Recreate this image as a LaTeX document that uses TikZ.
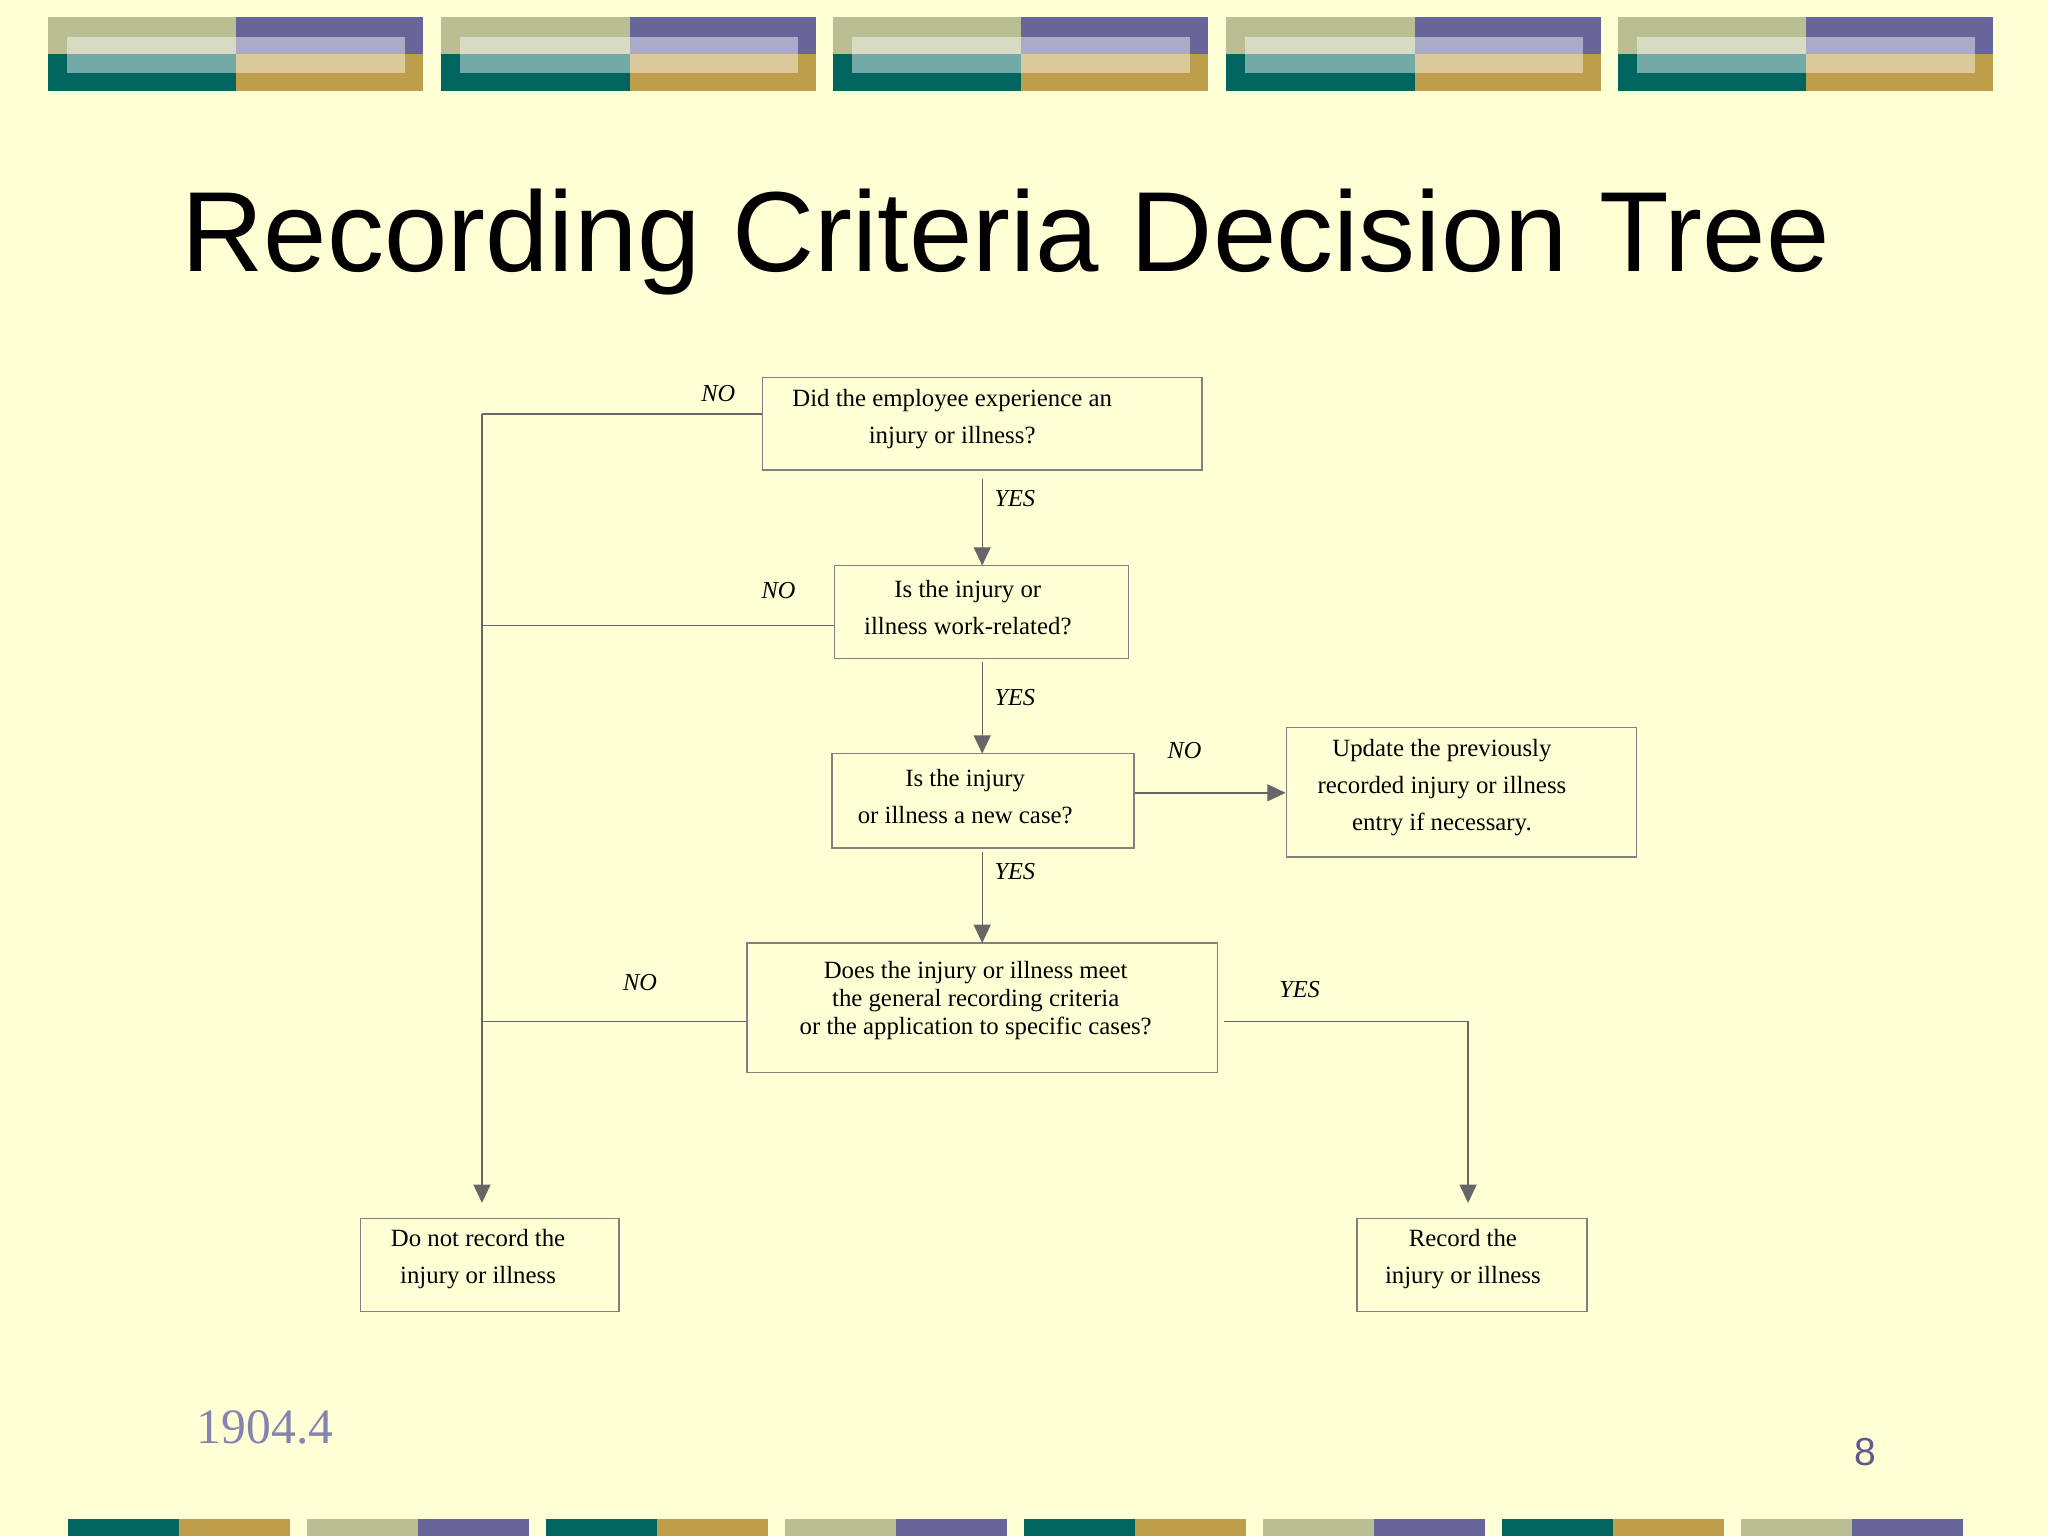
\documentclass[tikz,border=0pt]{standalone}
\usepackage{fontspec}
\setmainfont{Liberation Serif}
\newfontfamily\titlefont{Liberation Sans}
\usetikzlibrary{arrows.meta}
\definecolor{bg}{HTML}{FFFFD6}
\definecolor{olv}{HTML}{B9BF93}
\definecolor{pur}{HTML}{67659A}
\definecolor{tea}{HTML}{00645F}
\definecolor{gld}{HTML}{BF9E4B}
\tikzset{
 box/.style={draw=black!50, line width=0.35pt, inner sep=0pt},
 txt/.style={inner sep=0pt, align=center, font=\fontsize{5.4}{8}\selectfont},
 lab/.style={font=\fontsize{5.3}{6}\selectfont\itshape},
 con/.style={draw=black!60, line width=0.3pt},
 arr/.style={con, -{Triangle[width=0.13cm,length=0.14cm]}},
}
\begin{document}
\begin{tikzpicture}[x=0.01cm,y=-0.01cm]
\fill[bg] (0,0) rectangle (1568,1176);
\useasboundingbox (0,0) rectangle (1568,1176);
\foreach \x in {37,338,638,939,1239}{
 \fill[olv] (\x,13) rectangle ++(144,28);
 \fill[pur] (\x+144,13) rectangle ++(143,28);
 \fill[tea] (\x,41) rectangle ++(144,29);
 \fill[gld] (\x+144,41) rectangle ++(143,29);
 \fill[white,opacity=0.45] (\x+14,28) rectangle (\x+273,56);
}
\foreach \i in {0,...,7}{
 \pgfmathsetmacro{\xx}{52+183*\i}
 \ifodd\i
  \fill[olv] (\xx,1163) rectangle ++(85,13);
  \fill[pur] (\xx+85,1163) rectangle ++(85,13);
 \else
  \fill[tea] (\xx,1163) rectangle ++(85,13);
  \fill[gld] (\xx+85,1163) rectangle ++(85,13);
 \fi
}
\node[anchor=base, font=\titlefont\fontsize{24.8}{30}\selectfont] (title) at (770,208) {Recording Criteria Decision Tree};

\node[box, minimum width=3.36cm, minimum height=0.71cm] (A) at (752,324.5) {};
\node[txt] (At) at (729,321) {Did the employee experience an\\injury or illness?};
\node[box, minimum width=2.25cm, minimum height=0.71cm] (B) at (751.5,468.5) {};
\node[txt] (Bt) at (741,465) {Is the injury or\\illness work-related?};
\node[box, minimum width=2.31cm, minimum height=0.72cm] (C) at (752.5,613) {};
\node[txt] (Ct) at (739,610) {Is the injury\\or illness a new case?};
\node[box, minimum width=3.60cm, minimum height=0.99cm] (D) at (752,771.5) {};
\node[txt, font=\fontsize{5.4}{6}\selectfont] (Dt) at (747,766) {Does the injury or illness meet\\the general recording criteria\\or the application to specific cases?};
\node[box, minimum width=2.68cm, minimum height=0.99cm] (U) at (1119,606.5) {};
\node[txt] (Ut) at (1104,603) {Update the previously\\recorded injury or illness\\entry if necessary.};
\node[box, minimum width=1.98cm, minimum height=0.71cm] (N) at (375,968.5) {};
\node[txt] (Nt) at (366,964) {Do not record the\\injury or illness};
\node[box, minimum width=1.76cm, minimum height=0.71cm] (R) at (1127,968.5) {};
\node[txt] (Rtx) at (1120,964) {Record the\\injury or illness};

\coordinate (L1) at (369,317);
\coordinate (L2) at (369,479);
\coordinate (L3) at (369,782);
\coordinate (Rt) at (1124,782);
\draw[con] (A.west |- L1) -- (L1);
\draw[con] (B.west |- L2) -- (L2);
\draw[con] (D.west |- L3) -- (L3);
\draw[arr] (L1) -- (369,921);
\draw[arr] (752,367) -- (752,433);
\draw[arr] (752,507) -- (752,577);
\draw[arr] (752,652) -- (752,722);
\draw[arr] (C.east |- 0,607) -- (U.west |- 0,607);
\draw[arr] (937,782) -- (Rt) -- (1124,921);

\node[lab] at (550,301) {NO};
\node[lab] at (596,452) {NO};
\node[lab] at (907,575) {NO};
\node[lab] at (490,752) {NO};
\node[lab] at (777,382) {YES};
\node[lab] at (777,534) {YES};
\node[lab] at (777,667) {YES};
\node[lab] at (995,758) {YES};

\node[text=pur!80, font=\fontsize{10.8}{12}\selectfont] at (203,1093) {1904.4};
\node[text=pur!90!black, font=\titlefont\fontsize{8.5}{10}\selectfont] at (1428,1112) {8};
\end{tikzpicture}
\end{document}
